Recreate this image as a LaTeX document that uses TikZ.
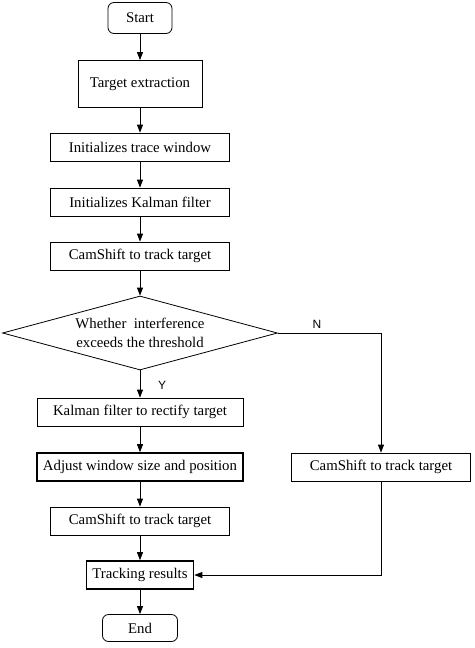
\documentclass[tikz,border=0pt]{standalone}
\usepackage{fontspec}
\setmainfont{Liberation Serif}
\newfontfamily\ynfont{Liberation Sans}
\usetikzlibrary{arrows.meta,positioning,shapes.geometric}

\begin{document}
\begin{tikzpicture}[x=1pt, y=-1pt,
    box/.style={rectangle, draw, line width=0.8pt, minimum height=28pt, inner sep=2pt, font=\fontsize{14.8}{19}\selectfont},
    boldbox/.style={box, line width=1.6pt},
    term/.style={box, rounded corners=6pt},
    decision/.style={diamond, aspect=3.7, draw, line width=0.8pt, minimum width=275pt, minimum height=74pt, inner sep=0pt, align=center, font=\fontsize{14.8}{19}\selectfont},
    arrow/.style={-{Triangle[length=8pt, width=6pt]}, line width=0.8pt},
    yn/.style={font=\ynfont\fontsize{12}{14}\selectfont}
]
\useasboundingbox (0,0) rectangle (474,648);
\node[term, minimum width=64pt, minimum height=31pt] (start) at (140,18) {Start};
\node[box, minimum width=124pt, minimum height=47pt] (extract) at (140,84) {Target extraction};
\node[box, minimum width=179pt] (inittrace) at (140,147) {Initializes trace window};
\node[box, minimum width=179pt] (initkalman) at (140,202) {Initializes Kalman filter};
\node[box, minimum width=179pt] (camfirst) at (140,256) {CamShift to track target};
\node[decision] (decide) at (140,333) {Whether\ \ interference\\exceeds the threshold};
\node[box, minimum width=206pt] (rectify) at (140,412) {Kalman filter to rectify target};
\node[boldbox, minimum width=206pt] (adjust) at (140,467) {Adjust window size and position};
\node[box, minimum width=179pt] (camsecond) at (140,521) {CamShift to track target};
\node[boldbox, minimum width=107pt] (result) at (140,575) {Tracking results};
\node[term, minimum width=75pt, minimum height=27pt] (finish) at (140,628) {End};
\node[box, minimum width=179pt] (camright) at (381,467) {CamShift to track target};
\node[yn] (ylabel) at (162,385) {Y};
\node[yn] (nlabel) at (317,324) {N};
% main column
\draw[arrow] (start) -- (extract);
\draw[arrow] (extract) -- (inittrace);
\draw[arrow] (inittrace) -- (initkalman);
\draw[arrow] (initkalman) -- (camfirst);
\draw[arrow] (camfirst) -- (decide);
\draw[arrow] (decide) -- (rectify);
\draw[arrow] (rectify) -- (adjust);
\draw[arrow] (adjust) -- (camsecond);
\draw[arrow] (camsecond) -- (result);
\draw[arrow] (result) -- (finish);
% right branch
\draw[arrow] (decide.east) -| (camright.north);
\draw[arrow] (camright.south) |- (result.east);
\end{tikzpicture}
\end{document}
